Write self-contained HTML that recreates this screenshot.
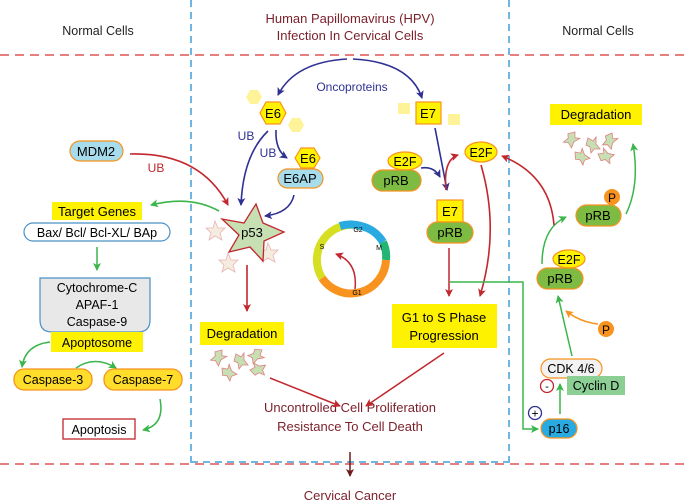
<!DOCTYPE html>
<html><head><meta charset="utf-8"><style>
html,body{margin:0;padding:0;background:#fff}
svg{display:block;font-family:"Liberation Sans",Arial,sans-serif}
</style></head><body>
<svg width="685" height="502" viewBox="0 0 685 502" xmlns="http://www.w3.org/2000/svg">
<defs>
<marker id="mr" markerWidth="8" markerHeight="8" refX="7" refY="4" orient="auto" markerUnits="userSpaceOnUse"><path d="M0,0 L8,4 L0,8 L2,4z" fill="#c1272d"/></marker>
<marker id="mn" markerWidth="8" markerHeight="8" refX="7" refY="4" orient="auto" markerUnits="userSpaceOnUse"><path d="M0,0 L8,4 L0,8 L2,4z" fill="#2e3192"/></marker>
<marker id="mg" markerWidth="8" markerHeight="8" refX="7" refY="4" orient="auto" markerUnits="userSpaceOnUse"><path d="M0,0 L8,4 L0,8 L2,4z" fill="#39b54a"/></marker>
<marker id="mo" markerWidth="8" markerHeight="8" refX="7" refY="4" orient="auto" markerUnits="userSpaceOnUse"><path d="M0,0 L8,4 L0,8 L2,4z" fill="#f7931e"/></marker>
<marker id="md" markerWidth="8" markerHeight="8" refX="7" refY="4" orient="auto" markerUnits="userSpaceOnUse"><path d="M0,0 L8,4 L0,8 L2,4z" fill="#6b1b1b"/></marker>
<g id="frag"><path d="M0,0 l5,3 l3,-4 l0,7 l4,5 l-6,0 l-3,4 l-1,-6 l-4,-2 z" fill="#c6e0b4" stroke="#e08080" stroke-width="0.8"/></g>
</defs>
<g stroke="#6fb7e0" stroke-width="2" stroke-dasharray="7,5">
<line x1="191" y1="0" x2="191" y2="463"/><line x1="509" y1="0" x2="509" y2="463"/>
<line x1="191" y1="462" x2="509" y2="462"/>
</g>
<g stroke="#e05555" stroke-width="1.5" stroke-dasharray="9,6">
<line x1="0" y1="55" x2="685" y2="55"/><line x1="0" y1="464" x2="685" y2="464"/>
</g>
<g font-size="12.5" fill="#222" text-anchor="middle">
<text x="98" y="35">Normal Cells</text><text x="598" y="35">Normal Cells</text>
</g>
<g font-size="13" fill="#7b1f2a" text-anchor="middle">
<text x="350" y="23">Human Papillomavirus (HPV)</text>
<text x="350" y="40">Infection In Cervical Cells</text>
<text x="350" y="412">Uncontrolled Cell Proliferation</text>
<text x="350" y="431">Resistance To Cell Death</text>
<text x="350" y="500">Cervical Cancer</text>
</g>
<line x1="350" y1="452" x2="350" y2="476" stroke="#6b1b1b" stroke-width="1.5" marker-end="url(#md)"/>
<path d="M347,59 Q295,62 278,95" fill="none" stroke="#2e3192" stroke-width="1.6" marker-end="url(#mn)"/>
<path d="M353,59 Q410,62 422,98" fill="none" stroke="#2e3192" stroke-width="1.6" marker-end="url(#mn)"/>
<text x="352" y="91" font-size="12" fill="#2e3192" text-anchor="middle">Oncoproteins</text>
<polygon points="246,97 250,90 258,90 262,97 258,104 250,104" fill="#fff39a"/>
<polygon points="288,125 292,118 300,118 304,125 300,132 292,132" fill="#fff39a"/>
<polygon points="260,113 266,102 280,102 286,113 280,124 266,124" fill="#fff200" stroke="#f7931e" stroke-width="1.2"/>
<text x="273" y="118" font-size="13" text-anchor="middle">E6</text>
<text x="246" y="140" font-size="12" fill="#2e3192" text-anchor="middle">UB</text>
<text x="268" y="157" font-size="12" fill="#2e3192" text-anchor="middle">UB</text>
<path d="M268,131 Q243,155 241,205" fill="none" stroke="#2e3192" stroke-width="1.6" marker-end="url(#mn)"/>
<path d="M276,130 Q275,150 287,158" fill="none" stroke="#2e3192" stroke-width="1.6" marker-end="url(#mn)"/>
<polygon points="295,158 301,148 314,148 320,158 314,168 301,168" fill="#fff200" stroke="#f7931e" stroke-width="1.2"/>
<text x="308" y="163" font-size="13" text-anchor="middle">E6</text>
<rect x="278" y="169" width="45" height="19" rx="9.5" fill="#a6dcec" stroke="#f7931e" stroke-width="1.2"/>
<text x="300" y="183" font-size="13" text-anchor="middle">E6AP</text>
<path d="M294,195 Q290,213 265,216" fill="none" stroke="#2e3192" stroke-width="1.6" marker-end="url(#mn)"/>
<rect x="70" y="141" width="53" height="20" rx="10" fill="#a6dcec" stroke="#f7931e" stroke-width="1.2"/>
<text x="96" y="156" font-size="13" text-anchor="middle">MDM2</text>
<text x="156" y="172" font-size="12" fill="#c1272d" text-anchor="middle">UB</text>
<path d="M130,154 Q200,152 228,205" fill="none" stroke="#c1272d" stroke-width="1.6" marker-end="url(#mr)"/>
<g fill="#f5ecdf" stroke="#e8b4b4" stroke-width="0.8">
<polygon points="212,163 215,170 222,170 217,175 219,182 212,178 206,182 208,175 203,170 210,170" transform="translate(3,58)"/>
<polygon points="212,163 215,170 222,170 217,175 219,182 212,178 206,182 208,175 203,170 210,170" transform="translate(16,90)"/>
<polygon points="212,163 215,170 222,170 217,175 219,182 212,178 206,182 208,175 203,170 210,170" transform="translate(56,80)"/>
</g>
<polygon points="256,204 263,223 284,232 264,241 263,261 250,247 229,252 239,235 222,219 244,223" fill="#c6e0b4" stroke="#c1272d" stroke-width="1.3"/>
<text x="252" y="237" font-size="13" text-anchor="middle">p53</text>
<path d="M219,211 Q190,195 151,205" fill="none" stroke="#39b54a" stroke-width="1.6" marker-end="url(#mg)"/>
<line x1="247" y1="265" x2="247" y2="311" stroke="#c1272d" stroke-width="1.6" marker-end="url(#mr)"/>
<rect x="52" y="202" width="90" height="18" fill="#fff200"/>
<text x="97" y="216" font-size="13" text-anchor="middle">Target Genes</text>
<rect x="24" y="223" width="146" height="18" rx="9" fill="#fff" stroke="#4a90c8" stroke-width="1.2"/>
<text x="97" y="237" font-size="12.5" text-anchor="middle">Bax/ Bcl/ Bcl-XL/ BAp</text>
<line x1="97" y1="247" x2="97" y2="270" stroke="#39b54a" stroke-width="1.5" marker-end="url(#mg)"/>
<path d="M40,278 h110 v42 q0,12 -12,12 h-86 q-12,0 -12,-12z" fill="#e8e8e8" stroke="#4a90c8" stroke-width="1.2"/>
<g font-size="12.5" text-anchor="middle"><text x="97" y="292">Cytochrome-C</text><text x="97" y="309">APAF-1</text><text x="97" y="326">Caspase-9</text></g>
<rect x="51" y="332" width="92" height="20" fill="#fff200"/>
<text x="97" y="347" font-size="12.5" text-anchor="middle">Apoptosome</text>
<path d="M50,342 Q25,345 22,367" fill="none" stroke="#39b54a" stroke-width="1.5" marker-end="url(#mg)"/>
<rect x="14" y="369" width="78" height="21" rx="10" fill="#ffdd2a" stroke="#f7931e" stroke-width="1.3"/>
<text x="53" y="384" font-size="12.5" text-anchor="middle">Caspase-3</text>
<rect x="104" y="369" width="78" height="21" rx="10" fill="#ffdd2a" stroke="#f7931e" stroke-width="1.3"/>
<text x="143" y="384" font-size="12.5" text-anchor="middle">Caspase-7</text>
<path d="M76,368 Q95,355 116,368" fill="none" stroke="#39b54a" stroke-width="1.5" marker-end="url(#mg)"/>
<path d="M160,399 Q165,425 143,430" fill="none" stroke="#39b54a" stroke-width="1.5" marker-end="url(#mg)"/>
<rect x="63" y="419" width="72" height="20" fill="#fff" stroke="#c1272d" stroke-width="1.3"/>
<text x="99" y="434" font-size="12.5" text-anchor="middle">Apoptosis</text>
<rect x="200" y="322" width="84" height="23" fill="#fff200"/>
<text x="242" y="338" font-size="13" text-anchor="middle">Degradation</text>
<use href="#frag" transform="translate(222,350) rotate(60)"/>
<use href="#frag" transform="translate(236,354)"/>
<use href="#frag" transform="translate(262,350) rotate(80)"/>
<use href="#frag" transform="translate(222,368) rotate(-20)"/>
<use href="#frag" transform="translate(250,370) rotate(-60)"/>
<line x1="270" y1="378" x2="340" y2="406" stroke="#c1272d" stroke-width="1.5" marker-end="url(#mr)"/>
<line x1="444" y1="353" x2="366" y2="406" stroke="#c1272d" stroke-width="1.5" marker-end="url(#mr)"/>
<rect x="398" y="103" width="12" height="11" fill="#fff39a"/>
<rect x="448" y="114" width="12" height="11" fill="#fff39a"/>
<rect x="416" y="102" width="25" height="22" fill="#fff200" stroke="#f7931e" stroke-width="1.2"/>
<text x="428" y="118" font-size="13" text-anchor="middle">E7</text>
<line x1="435" y1="128" x2="447" y2="190" stroke="#2e3192" stroke-width="1.6" marker-end="url(#mn)"/>
<ellipse cx="405" cy="161" rx="17" ry="9" fill="#fff200" stroke="#f7931e" stroke-width="1.2"/>
<text x="405" y="166" font-size="12.5" text-anchor="middle">E2F</text>
<rect x="372" y="170" width="49" height="21" rx="10.5" fill="#7dbb42" stroke="#f7931e" stroke-width="1.2"/>
<text x="396" y="185" font-size="13" text-anchor="middle">pRB</text>
<path d="M421,168 Q434,166 440,177" fill="none" stroke="#2e3192" stroke-width="1.6" marker-end="url(#mn)"/>
<path d="M446,190 Q443,160 458,155" fill="none" stroke="#c1272d" stroke-width="1.6" marker-end="url(#mr)"/>
<ellipse cx="481" cy="152" rx="16" ry="10" fill="#fff200" stroke="#f7931e" stroke-width="1.2"/>
<text x="481" y="157" font-size="12.5" text-anchor="middle">E2F</text>
<path d="M481,165 Q500,230 480,296" fill="none" stroke="#c1272d" stroke-width="1.6" marker-end="url(#mr)"/>
<rect x="437" y="200" width="26" height="22" fill="#fff200" stroke="#f7931e" stroke-width="1.2"/>
<text x="450" y="216" font-size="13" text-anchor="middle">E7</text>
<rect x="427" y="222" width="46" height="21" rx="10.5" fill="#7dbb42" stroke="#f7931e" stroke-width="1.2"/>
<text x="450" y="237" font-size="13" text-anchor="middle">pRB</text>
<line x1="449" y1="248" x2="449" y2="296" stroke="#c1272d" stroke-width="1.5" marker-end="url(#mr)"/>
<polyline points="450,282 523,282 523,429 538,429" fill="none" stroke="#39b54a" stroke-width="1.5" marker-end="url(#mg)"/>
<g fill="none" stroke-width="8">
<path d="M361,226 A35,35 0 0 1 383,242" stroke="#29abe2"/>
<path d="M383,242 A35,35 0 0 1 386,260" stroke="#22b573"/>
<path d="M386,260 A35,35 0 0 1 322,278" stroke="#f7931e"/>
<path d="M322,278 A35,35 0 0 1 361,226" stroke="#d7df23"/>
<path d="M340,226 A35,35 0 0 1 361,226" stroke="#29abe2"/>
</g>
<g font-size="7" text-anchor="middle"><text x="358" y="232">G2</text><text x="379" y="250">M</text><text x="357" y="295">G1</text><text x="322" y="249">S</text></g>
<path d="M355,289 Q358,262 336,254" fill="none" stroke="#c1272d" stroke-width="1.5" marker-end="url(#mr)"/>
<rect x="392" y="304" width="105" height="44" fill="#fff200"/>
<text x="444" y="322" font-size="13" text-anchor="middle">G1 to S Phase</text>
<text x="444" y="340" font-size="13" text-anchor="middle">Progression</text>
<rect x="550" y="104" width="92" height="21" fill="#fff200"/>
<text x="596" y="119" font-size="13" text-anchor="middle">Degradation</text>
<use href="#frag" transform="translate(575,132) rotate(60)"/>
<use href="#frag" transform="translate(588,138)"/>
<use href="#frag" transform="translate(612,133) rotate(50)"/>
<use href="#frag" transform="translate(575,152) rotate(-20)"/>
<use href="#frag" transform="translate(598,154) rotate(-40)"/>
<path d="M626,214 Q640,185 633,144" fill="none" stroke="#39b54a" stroke-width="1.5" marker-end="url(#mg)"/>
<circle cx="612" cy="197" r="8" fill="#f7931e"/>
<text x="612" y="202" font-size="12" text-anchor="middle">P</text>
<rect x="576" y="205" width="45" height="21" rx="10.5" fill="#7dbb42" stroke="#f7931e" stroke-width="1.2"/>
<text x="598" y="220" font-size="13" text-anchor="middle">pRB</text>
<path d="M542,264 Q542,228 566,217" fill="none" stroke="#39b54a" stroke-width="1.5" marker-end="url(#mg)"/>
<path d="M554,225 Q550,175 502,156" fill="none" stroke="#c1272d" stroke-width="1.6" marker-end="url(#mr)"/>
<ellipse cx="569" cy="259" rx="16" ry="9" fill="#fff200" stroke="#f7931e" stroke-width="1.2"/>
<text x="569" y="264" font-size="12.5" text-anchor="middle">E2F</text>
<rect x="537" y="268" width="46" height="21" rx="10.5" fill="#7dbb42" stroke="#f7931e" stroke-width="1.2"/>
<text x="560" y="283" font-size="13" text-anchor="middle">pRB</text>
<line x1="572" y1="356" x2="558" y2="296" stroke="#39b54a" stroke-width="1.5" marker-end="url(#mg)"/>
<path d="M598,324 Q580,322 566,311" fill="none" stroke="#f7931e" stroke-width="1.5" marker-end="url(#mo)"/>
<circle cx="606" cy="329" r="8" fill="#f7931e"/>
<text x="606" y="334" font-size="12" text-anchor="middle">P</text>
<rect x="541" y="359" width="61" height="19" rx="9.5" fill="#f2f2f2" stroke="#f7931e" stroke-width="1.2"/>
<text x="571" y="373" font-size="12.5" text-anchor="middle">CDK 4/6</text>
<circle cx="547" cy="386" r="6.5" fill="#fff" stroke="#c1272d" stroke-width="1.3"/>
<text x="547" y="390" font-size="11" text-anchor="middle">-</text>
<rect x="567" y="376" width="58" height="19" fill="#8ccf95"/>
<text x="596" y="390" font-size="12.5" text-anchor="middle">Cyclin D</text>
<line x1="560" y1="414" x2="560" y2="384" stroke="#39b54a" stroke-width="1.5" marker-end="url(#mg)"/>
<circle cx="535" cy="413" r="6.5" fill="#fff" stroke="#2e3192" stroke-width="1.3"/>
<text x="535" y="417.5" font-size="12" text-anchor="middle">+</text>
<rect x="541" y="419" width="36" height="19" rx="9.5" fill="#29abe2" stroke="#f7931e" stroke-width="1.2"/>
<text x="559" y="433" font-size="12.5" text-anchor="middle">p16</text>
</svg>
</body></html>
